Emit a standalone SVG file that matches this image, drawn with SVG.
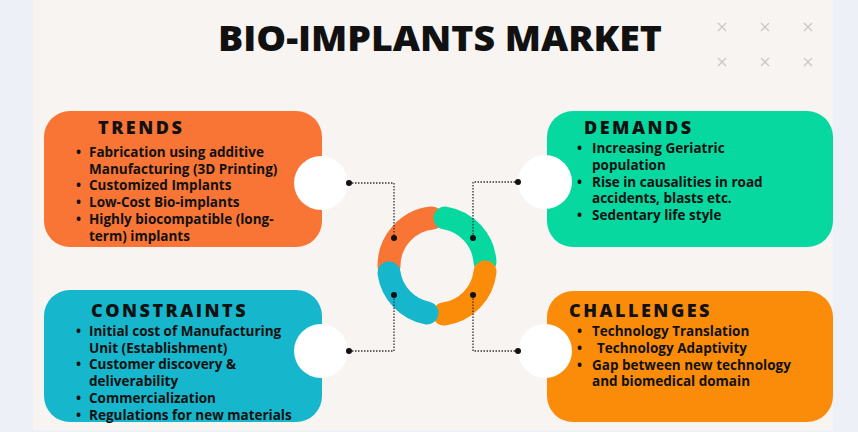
<svg xmlns="http://www.w3.org/2000/svg" width="858" height="432" viewBox="0 0 858 432">
<style>
.h{font-family:"Open Sans","DejaVu Sans",sans-serif;font-weight:800;font-size:18px;letter-spacing:2.5px;fill:#111}
.t{font-family:"Open Sans","DejaVu Sans",sans-serif;font-weight:700;font-size:13.5px;fill:#111}
.x{stroke:#c8c8c8;stroke-width:1.3}
.c{fill:#fff}
.d{fill:#111}
.cn{fill:none;stroke:#333;stroke-width:1.3;stroke-dasharray:1.5 1.5}
</style>
<rect width="858" height="432" fill="#edf1f7"/>
<rect x="33" y="0" width="800" height="430" fill="#f7f4f2"/>
<g class="x"><path d="M718 23l8 8M726 23l-8 8M761 23l8 8M769 23l-8 8M804 23l8 8M812 23l-8 8M718 58l8 8M726 58l-8 8M761 58l8 8M769 58l-8 8M804 58l8 8M812 58l-8 8"/></g>
<text x="440" y="51" text-anchor="middle" font-family="Open Sans, DejaVu Sans, sans-serif" font-weight="800" font-size="36" fill="#111" textLength="444" lengthAdjust="spacingAndGlyphs">BIO-IMPLANTS MARKET</text>
<g id="trends">
<rect x="44" y="111" width="278" height="136" rx="26" fill="#f97535"/>
<text class="h" x="98" y="134">TRENDS</text>
<text class="t"><tspan x="76" y="157">•</tspan><tspan x="89" y="157">Fabrication using additive</tspan><tspan x="89" y="174">Manufacturing (3D Printing)</tspan><tspan x="76" y="190">•</tspan><tspan x="89" y="190">Customized Implants</tspan><tspan x="76" y="207">•</tspan><tspan x="89" y="207">Low-Cost Bio-implants</tspan><tspan x="76" y="224">•</tspan><tspan x="89" y="224">Highly biocompatible (long-</tspan><tspan x="89" y="241">term) implants</tspan></text>
<circle class="c" cx="321" cy="183" r="27"/>
</g>
<g id="constraints">
<rect x="44" y="290" width="278" height="132" rx="26" fill="#16b6cc"/>
<text class="h" x="91" y="317">CONSTRAINTS</text>
<text class="t"><tspan x="76" y="336">•</tspan><tspan x="89" y="336">Initial cost of Manufacturing</tspan><tspan x="89" y="353">Unit (Establishment)</tspan><tspan x="76" y="369">•</tspan><tspan x="89" y="369">Customer discovery &amp;</tspan><tspan x="89" y="386">deliverability</tspan><tspan x="76" y="403">•</tspan><tspan x="89" y="403">Commercialization</tspan><tspan x="76" y="420">•</tspan><tspan x="89" y="420">Regulations for new materials</tspan></text>
<circle class="c" cx="321" cy="351" r="27"/>
</g>
<g id="demands">
<rect x="547" y="111" width="286" height="136" rx="26" fill="#06d8a0"/>
<text class="h" x="584" y="134">DEMANDS</text>
<text class="t"><tspan x="577" y="153">•</tspan><tspan x="592" y="153">Increasing Geriatric</tspan><tspan x="592" y="170">population</tspan><tspan x="577" y="187">•</tspan><tspan x="592" y="187">Rise in causalities in road</tspan><tspan x="592" y="203">accidents, blasts etc.</tspan><tspan x="577" y="220">•</tspan><tspan x="592" y="220">Sedentary life style</tspan></text>
<circle class="c" cx="545" cy="182" r="27"/>
</g>
<g id="challenges">
<rect x="547" y="291" width="286" height="131" rx="26" fill="#fb8c0a"/>
<text class="h" x="569" y="317">CHALLENGES</text>
<text class="t"><tspan x="577" y="336">•</tspan><tspan x="592" y="336">Technology Translation</tspan><tspan x="577" y="353">•</tspan><tspan x="597" y="353">Technology Adaptivity</tspan><tspan x="577" y="370">•</tspan><tspan x="592" y="370">Gap between new technology</tspan><tspan x="592" y="386">and biomedical domain</tspan></text>
<circle class="c" cx="545" cy="351" r="27"/>
</g>
<g id="ring" fill="none" stroke-width="23" stroke-linecap="round">
<path d="M437 266m-48 0a48 48 0 0 1 43-48" stroke="#f97535"/>
<path d="M437 266m8 -48a48 48 0 0 1 40 44" stroke="#06d8a0"/>
<path d="M437 266m48 6a48 48 0 0 1 -41 42" stroke="#fb8c0a"/>
<path d="M437 266m-10 47a48 48 0 0 1 -38 -40" stroke="#16b6cc"/>
</g>
<g id="connectors">
<path class="cn" d="M349 183H394V238M349 351H394V295M518 182H473V238M518 351H473V295"/>
<g class="d"><circle cx="349" cy="183" r="3"/><circle cx="394" cy="238" r="3"/><circle cx="349" cy="351" r="3"/><circle cx="394" cy="295" r="3"/><circle cx="518" cy="182" r="3"/><circle cx="473" cy="238" r="3"/><circle cx="518" cy="351" r="3"/><circle cx="473" cy="295" r="3"/></g>
</g>
</svg>
